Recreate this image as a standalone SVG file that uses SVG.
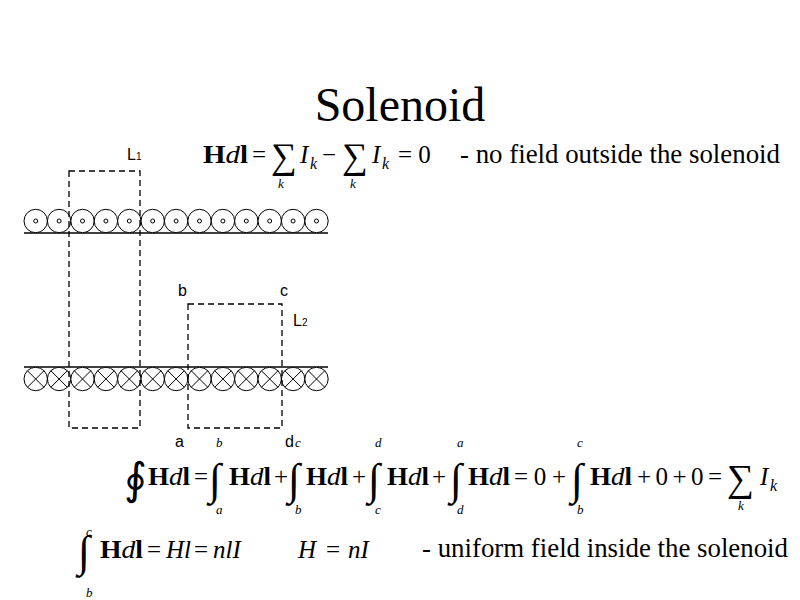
<svg xmlns="http://www.w3.org/2000/svg" width="800" height="600" viewBox="0 0 800 600">
<defs>
<style>
.t{font-family:"Liberation Serif","Times New Roman","DejaVu Serif",serif;fill:#000}
.t text{font-family:"Liberation Serif","Times New Roman","DejaVu Serif",serif}
.s{font-family:"Liberation Sans",Arial,sans-serif;fill:#000;font-size:16px}
.b{font-weight:bold}
.i{font-style:italic}
.n{font-weight:normal;font-style:italic}
.lim{font-size:13px;font-style:italic}
.d{fill:none;stroke:#000;stroke-width:1.3;stroke-dasharray:6,4}
.c{fill:#fff;stroke:#000;stroke-width:1}
.l{stroke:#000;stroke-width:1.3}
</style>
<g id="dotc"><circle class="c" r="11.7"/><circle class="c" r="2"/></g>
<g id="xc"><circle class="c" r="11.7"/><path d="M-8.3,-8.3L8.3,8.3M-8.3,8.3L8.3,-8.3" stroke="#000"/></g>
</defs>
<rect width="800" height="600" fill="#fff"/>
<text class="t" x="400" y="121" font-size="48" text-anchor="middle" font-family="Liberation Serif, serif">Solenoid</text>
<g id="top-row">
<line class="l" x1="24" y1="233" x2="328" y2="233"/>
<use href="#dotc" x="35.7" y="221"/><use href="#dotc" x="59.1" y="221"/><use href="#dotc" x="82.5" y="221"/><use href="#dotc" x="105.9" y="221"/><use href="#dotc" x="129.3" y="221"/><use href="#dotc" x="152.7" y="221"/><use href="#dotc" x="176.1" y="221"/><use href="#dotc" x="199.5" y="221"/><use href="#dotc" x="222.9" y="221"/><use href="#dotc" x="246.3" y="221"/><use href="#dotc" x="269.7" y="221"/><use href="#dotc" x="293.1" y="221"/><use href="#dotc" x="316.5" y="221"/>
</g>
<g id="bottom-row">
<line class="l" x1="24" y1="367" x2="328" y2="367"/>
<use href="#xc" x="35.7" y="379"/><use href="#xc" x="59.1" y="379"/><use href="#xc" x="82.5" y="379"/><use href="#xc" x="105.9" y="379"/><use href="#xc" x="129.3" y="379"/><use href="#xc" x="152.7" y="379"/><use href="#xc" x="176.1" y="379"/><use href="#xc" x="199.5" y="379"/><use href="#xc" x="222.9" y="379"/><use href="#xc" x="246.3" y="379"/><use href="#xc" x="269.7" y="379"/><use href="#xc" x="293.1" y="379"/><use href="#xc" x="316.5" y="379"/>
</g>
<g id="L1"><rect class="d" x="69" y="171" width="71" height="257"/>
<text class="s" x="127" y="160">L<tspan font-size="10">1</tspan></text></g>
<g id="L2"><rect class="d" x="188" y="304" width="94" height="124"/>
<text class="s" x="293" y="326">L<tspan font-size="10">2</tspan></text>
<text class="s" x="178" y="296">b</text><text class="s" x="280" y="296">c</text>
<text class="s" x="175" y="447">a</text><text class="s" x="285" y="447">d</text></g>
<g id="eq1" class="t" font-size="25">
<text x="203" y="163" class="b" textLength="45" lengthAdjust="spacingAndGlyphs">H<tspan class="n">d</tspan>l</text>
<text x="252" y="163">=</text>
<text x="271" y="168" font-size="36">∑</text><text x="278" y="188" class="lim">k</text>
<text x="300" y="163" class="i">I</text><text x="310" y="169" font-size="16" class="i">k</text>
<text x="322" y="163">−</text>
<text x="342" y="168" font-size="36">∑</text><text x="350" y="188" class="lim">k</text>
<text x="372" y="163" class="i">I</text><text x="382" y="169" font-size="16" class="i">k</text>
<text x="398" y="163">= 0</text>
</g>
<text class="t" x="460" y="163" font-size="27" textLength="320" lengthAdjust="spacingAndGlyphs">- no field outside the solenoid</text>
<g id="eq2" class="t" font-size="25">
<text x="124" y="494" font-size="44">∮</text>
<text x="148" y="485" class="b" textLength="42" lengthAdjust="spacingAndGlyphs">H<tspan class="n">d</tspan>l</text><text x="194" y="485">=</text>
<text x="209" y="494" font-size="44">∫</text><text x="216" y="447" class="lim">b</text><text x="216" y="514" class="lim">a</text>
<text x="229" y="485" class="b" textLength="42" lengthAdjust="spacingAndGlyphs">H<tspan class="n">d</tspan>l</text><text x="274" y="485">+</text>
<text x="288" y="494" font-size="44">∫</text><text x="295" y="447" class="lim">c</text><text x="295" y="514" class="lim">b</text>
<text x="306" y="485" class="b" textLength="42" lengthAdjust="spacingAndGlyphs">H<tspan class="n">d</tspan>l</text><text x="352" y="485">+</text>
<text x="368" y="494" font-size="44">∫</text><text x="375" y="447" class="lim">d</text><text x="375" y="514" class="lim">c</text>
<text x="387" y="485" class="b" textLength="42" lengthAdjust="spacingAndGlyphs">H<tspan class="n">d</tspan>l</text><text x="432" y="485">+</text>
<text x="450" y="494" font-size="44">∫</text><text x="457" y="447" class="lim">a</text><text x="457" y="514" class="lim">d</text>
<text x="468" y="485" class="b" textLength="42" lengthAdjust="spacingAndGlyphs">H<tspan class="n">d</tspan>l</text><text x="514" y="485" textLength="52" lengthAdjust="spacing">= 0 +</text>
<text x="571" y="494" font-size="44">∫</text><text x="577" y="447" class="lim">c</text><text x="577" y="514" class="lim">b</text>
<text x="590" y="485" class="b" textLength="42" lengthAdjust="spacingAndGlyphs">H<tspan class="n">d</tspan>l</text><text x="637" y="485" textLength="85" lengthAdjust="spacing">+ 0 + 0 =</text>
<text x="727" y="491" font-size="38">∑</text><text x="738" y="510" class="lim">k</text>
<text x="760" y="485" class="i">I</text><text x="770" y="491" font-size="16" class="i">k</text>
</g>
<g id="eq3" class="t" font-size="25">
<text x="78" y="566" font-size="44">∫</text><text x="86" y="536" class="lim" font-size="11">c</text><text x="86" y="597" class="lim" font-size="11">b</text>
<text x="100" y="558" class="b" textLength="43" lengthAdjust="spacingAndGlyphs">H<tspan class="n">d</tspan>l</text>
<text x="147" y="558">=</text><text x="166" y="558" class="i">Hl</text><text x="194" y="558">=</text><text x="213" y="558" class="i">nlI</text>
<text x="298" y="558" class="i">H</text><text x="326" y="558">=</text><text x="348" y="558" class="i">nI</text>
</g>
<text class="t" x="422" y="557" font-size="27" textLength="366" lengthAdjust="spacingAndGlyphs">- uniform field inside the solenoid</text>
</svg>
